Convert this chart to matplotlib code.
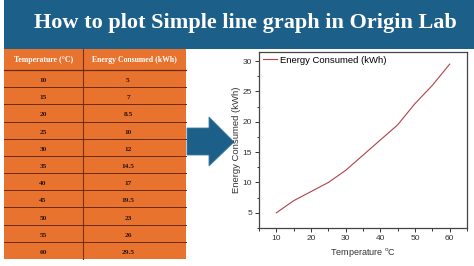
import matplotlib
matplotlib.use('Agg')
import matplotlib.pyplot as plt
from matplotlib.patches import Rectangle, Polygon
from matplotlib.ticker import MultipleLocator

temps = [10, 15, 20, 25, 30, 35, 40, 45, 50, 55, 60]
energy = [5, 7, 8.5, 10, 12, 14.5, 17, 19.5, 23, 26, 29.5]
energy_txt = ['5', '7', '8.5', '10', '12', '14.5', '17', '19.5', '23', '26', '29.5']
headers = ['Temperature (\u00b0C)', 'Energy Consumed (kWh)']
title = 'How to plot Simple line graph in Origin Lab'

blue = '#1c5f88'
orange = '#e8732f'
line_red = '#b0404c'

W, H = 474, 266
fig = plt.figure(figsize=(W / 100, H / 100), dpi=100)
fig.patch.set_facecolor('white')

# background overlay in pixel coordinates
bg = fig.add_axes([0, 0, 1, 1])
bg.set_xlim(0, W)
bg.set_ylim(H, 0)
bg.axis('off')

# title bar
bg.add_patch(Rectangle((4, 0), W - 4, 49, color=blue, lw=0))
bg.text((4 + W) / 2 + 6, 23, title, color='white', fontsize=16, fontweight='bold',
        family='Liberation Serif', ha='center', va='center')

# table
tx0, tx1, tdiv = 4, 186, 83
ty0, thead = 49, 70
row_h = (259 - thead) / len(temps)
bg.add_patch(Rectangle((tx0, ty0), tx1 - tx0, 259 - ty0, color=orange, lw=0))
bg.plot([tdiv, tdiv], [ty0, 259], color='#7a3210', lw=0.8)
bg.plot([tx0, tx1], [thead, thead], color='#6b2a0a', lw=0.9)
bg.text((tx0 + tdiv) / 2, (ty0 + thead) / 2 + 1, headers[0], color='white',
        fontsize=5.6, fontweight='bold', family='Liberation Serif', ha='center', va='center')
bg.text((tdiv + tx1) / 2, (ty0 + thead) / 2 + 1, headers[1], color='white',
        fontsize=5.6, fontweight='bold', family='Liberation Serif', ha='center', va='center')
for i, (t, e) in enumerate(zip(temps, energy_txt)):
    yc = thead + (i + 0.5) * row_h + 2
    if i > 0:
        yl = thead + i * row_h
        bg.plot([tx0, tx1], [yl, yl], color='#6b2a0a', lw=0.7)
    bg.text(43, yc, str(t), color='#2a1208', fontsize=5.3, fontweight='bold',
            family='Liberation Serif', ha='center', va='center')
    bg.text(128, yc, e, color='#2a1208', fontsize=5.3, fontweight='bold',
            family='Liberation Serif', ha='center', va='center')

# arrow
arrow = Polygon([(187, 128), (209, 128), (209, 117), (234, 142),
                 (209, 166), (209, 155), (187, 155)],
                closed=True, facecolor=blue, edgecolor='#3f7ea6', lw=0.6)
bg.add_patch(arrow)

# chart
ax = fig.add_axes([259 / W, 1 - 228 / H, (467 - 259) / W, (228 - 52) / H])
ax.plot(temps, energy, color=line_red, lw=0.8, label=headers[1].replace('\u00b0', ''))
ax.set_xlim(5, 65)
ax.set_ylim(2.5, 31.5)
ax.xaxis.set_major_locator(MultipleLocator(10))
ax.xaxis.set_minor_locator(MultipleLocator(5))
ax.yaxis.set_major_locator(MultipleLocator(5))
ax.yaxis.set_minor_locator(MultipleLocator(2.5))
ax.tick_params(which='both', direction='out', labelsize=6, colors='#333333',
               width=0.7, top=False, right=False)
ax.tick_params(which='major', length=3, pad=2)
ax.tick_params(which='minor', length=1.8)
for s in ax.spines.values():
    s.set_linewidth(0.9)
    s.set_color('#444444')
for lab in ax.get_xticklabels() + ax.get_yticklabels():
    lab.set_family('Liberation Sans')
ax.set_xlabel('Temperature $^{\\mathregular{o}}$C', fontsize=6.5, family='Liberation Sans',
              color='#333333', labelpad=3)
ax.set_ylabel('Energy Consumed (kWh)', fontsize=6.8, family='Liberation Sans',
              color='#333333', labelpad=1)
leg = ax.legend(loc='upper left', frameon=False, handlelength=1.5,
                handletextpad=0.35, borderaxespad=0.2, borderpad=0.2,
                prop={'family': 'Liberation Sans', 'size': 6.8})

fig.savefig('out.png', dpi=100)
